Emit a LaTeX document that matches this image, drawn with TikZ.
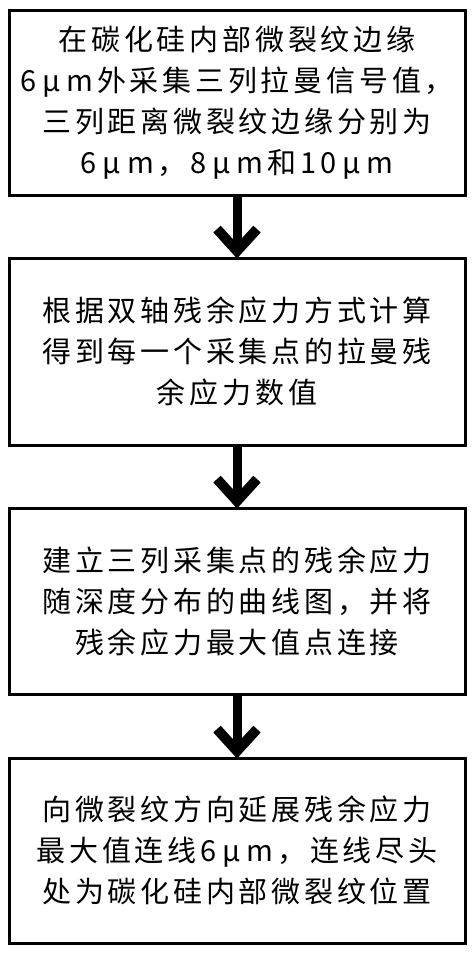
\documentclass[tikz,border=0pt]{standalone}
\usepackage{fontspec}
\newfontfamily\cjk[LetterSpace=13]{Noto Sans CJK SC}
\usetikzlibrary{arrows.meta}
\newcommand{\umu}[1]{#1\hspace{6pt}μ\hspace{6pt}m}
\tikzset{
  stepbox/.style={draw=black, line width=3pt, minimum width=456pt, minimum height=186pt,
    align=center, font=\cjk\fontsize{29pt}{41pt}\selectfont, inner sep=0pt},
  flowarrow/.style={line width=9pt, -{Straight Barb[length=22pt, width=40pt, line width=10pt]}, shorten >=-2pt}
}
\begin{document}
\begin{tikzpicture}[x=1pt,y=1pt]
\useasboundingbox (0,0) rectangle (474,-953);
\fill[white] (0,0) rectangle (474,-953);
\node[stepbox, minimum height=185pt] (b1) at (237,-102.5) {在碳化硅内部微裂纹边缘\\\umu{6}外采集三列拉曼信号值，\\三列距离微裂纹边缘分别为\\\umu{6}，\umu{8}和\umu{10}};
\node[stepbox, minimum height=187pt] (b2) at (237,-351.5) {根据双轴残余应力方式计算\\得到每一个采集点的拉曼残\\余应力数值};
\node[stepbox] (b3) at (237,-601) {建立三列采集点的残余应力\\随深度分布的曲线图，并将\\残余应力最大值点连接};
\node[stepbox, minimum height=185pt] (b4) at (237,-850.5) {\raisebox{-3pt}{\parbox{440pt}{\centering 向微裂纹方向延展残余应力\\最大值连线\umu{6}，连线尽头\\处为碳化硅内部微裂纹位置}}};
\draw[flowarrow] (b1.south) -- (b2.north);
\draw[flowarrow] (b2.south) -- (b3.north);
\draw[flowarrow] (b3.south) -- (b4.north);
\end{tikzpicture}
\end{document}
